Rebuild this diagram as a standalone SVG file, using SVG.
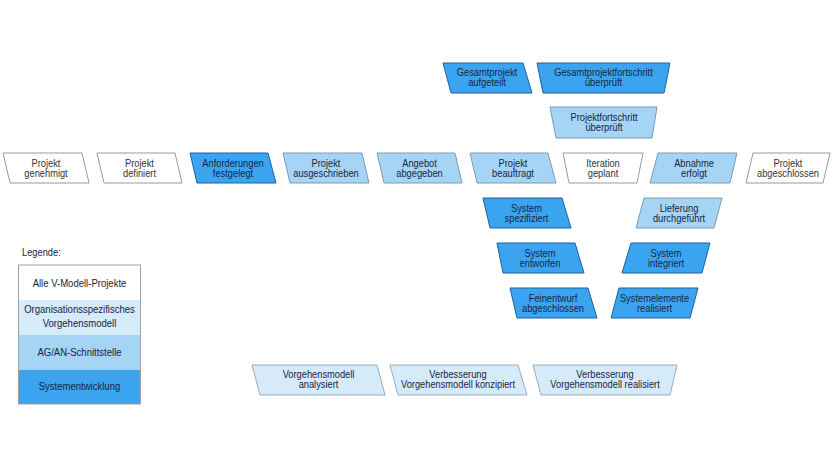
<svg xmlns="http://www.w3.org/2000/svg" width="840" height="473" viewBox="0 0 840 473">
<style>
.w{fill:#ffffff;stroke:#9a9a9a;stroke-width:1}
.l{fill:#d6ebfa;stroke:#9aabba;stroke-width:1}
.m{fill:#a6d4f5;stroke:#7c9cb6;stroke-width:1}
.d{fill:#3ba4f0;stroke:#22609a;stroke-width:1}
.t{font-family:"Liberation Sans",Arial,sans-serif;font-size:11.2px;text-anchor:middle;fill:#17243f}
.tg{font-family:"Liberation Sans",Arial,sans-serif;font-size:11.2px;text-anchor:middle;fill:#333333}
.lg{font-family:"Liberation Sans",Arial,sans-serif;font-size:11.5px;text-anchor:middle;fill:#17243f}
</style>
<rect width="840" height="473" fill="#ffffff"/>
<g id="connectors"></g>

<g id="n-projekt-genehmigt"><polygon class="w" points="3,153 82,153 89,183 10,183"/><text class="tg" transform="translate(46,0) scale(0.83,1)"><tspan x="0" y="167">Projekt</tspan><tspan x="0" y="177.5">genehmigt</tspan></text></g>
<g id="n-projekt-definiert"><polygon class="w" points="97,153 175,153 182,183 104,183"/><text class="tg" transform="translate(139.5,0) scale(0.83,1)"><tspan x="0" y="167">Projekt</tspan><tspan x="0" y="177.5">definiert</tspan></text></g>
<g id="n-anforderungen"><polygon class="d" points="190,153 268,153 276,183 197,183"/><text class="t" transform="translate(233,0) scale(0.83,1)"><tspan x="0" y="167">Anforderungen</tspan><tspan x="0" y="177.5">festgelegt</tspan></text></g>
<g id="n-ausgeschrieben"><polygon class="m" points="283,153 362,153 369,183 290,183"/><text class="t" transform="translate(326,0) scale(0.83,1)"><tspan x="0" y="167">Projekt</tspan><tspan x="0" y="177.5">ausgeschrieben</tspan></text></g>
<g id="n-angebot"><polygon class="m" points="377,153 455,153 462,183 384,183"/><text class="t" transform="translate(419.5,0) scale(0.83,1)"><tspan x="0" y="167">Angebot</tspan><tspan x="0" y="177.5">abgegeben</tspan></text></g>
<g id="n-beauftragt"><polygon class="m" points="470,153 548,153 556,183 477,183"/><text class="t" transform="translate(513,0) scale(0.83,1)"><tspan x="0" y="167">Projekt</tspan><tspan x="0" y="177.5">beauftragt</tspan></text></g>
<g id="n-iteration"><polygon class="w" points="563,153 643,153 637,183 569,183"/><text class="tg" transform="translate(603,0) scale(0.83,1)"><tspan x="0" y="167">Iteration</tspan><tspan x="0" y="177.5">geplant</tspan></text></g>
<g id="n-abnahme"><polygon class="m" points="658,153 737,153 730,183 650,183"/><text class="t" transform="translate(694,0) scale(0.83,1)"><tspan x="0" y="167">Abnahme</tspan><tspan x="0" y="177.5">erfolgt</tspan></text></g>
<g id="n-abgeschlossen"><polygon class="w" points="753,153 830,153 823,183 746,183"/><text class="tg" transform="translate(788,0) scale(0.83,1)"><tspan x="0" y="167">Projekt</tspan><tspan x="0" y="177.5">abgeschlossen</tspan></text></g>

<g id="n-gesamtprojekt"><polygon class="d" points="443,63 523,63 532,93 451,93"/><text class="t" transform="translate(487,0) scale(0.83,1)"><tspan x="0" y="76">Gesamtprojekt</tspan><tspan x="0" y="86.5">aufgeteilt</tspan></text></g>
<g id="n-gesamtfortschritt"><polygon class="d" points="537,63 670,63 664,93 543,93"/><text class="t" transform="translate(603.5,0) scale(0.83,1)"><tspan x="0" y="76">Gesamtprojektfortschritt</tspan><tspan x="0" y="86.5">überprüft</tspan></text></g>
<g id="n-projektfortschritt"><polygon class="m" points="550,107 657,107 652,138 556,138"/><text class="t" transform="translate(604,0) scale(0.83,1)"><tspan x="0" y="121">Projektfortschritt</tspan><tspan x="0" y="131.5">überprüft</tspan></text></g>

<g id="n-sys-spez"><polygon class="d" points="483,198 562,198 571,228 490,228"/><text class="t" transform="translate(526.5,0) scale(0.83,1)"><tspan x="0" y="212">System</tspan><tspan x="0" y="222.5">spezifiziert</tspan></text></g>
<g id="n-sys-entw"><polygon class="d" points="497,243 575,243 584,273 503,273"/><text class="t" transform="translate(540,0) scale(0.83,1)"><tspan x="0" y="257">System</tspan><tspan x="0" y="267.5">entworfen</tspan></text></g>
<g id="n-feinentwurf"><polygon class="d" points="510,288 588,288 597,318 517,318"/><text class="t" transform="translate(553,0) scale(0.83,1)"><tspan x="0" y="302">Feinentwurf</tspan><tspan x="0" y="312.5">abgeschlossen</tspan></text></g>

<g id="n-lieferung"><polygon class="m" points="644,198 722,198 714,228 636,228"/><text class="t" transform="translate(679,0) scale(0.83,1)"><tspan x="0" y="212">Lieferung</tspan><tspan x="0" y="222.5">durchgeführt</tspan></text></g>
<g id="n-sys-integ"><polygon class="d" points="631,243 710,243 702,273 622,273"/><text class="t" transform="translate(666,0) scale(0.83,1)"><tspan x="0" y="257">System</tspan><tspan x="0" y="267.5">integriert</tspan></text></g>
<g id="n-systemelemente"><polygon class="d" points="619,288 698,288 690,318 611,318"/><text class="t" transform="translate(654.5,0) scale(0.83,1)"><tspan x="0" y="302">Systemelemente</tspan><tspan x="0" y="312.5">realisiert</tspan></text></g>

<g id="n-vm-analysiert"><polygon class="l" points="252,365 377,365 385,395 260,395"/><text class="t" transform="translate(318.5,0) scale(0.83,1)"><tspan x="0" y="378">Vorgehensmodell</tspan><tspan x="0" y="388.5">analysiert</tspan></text></g>
<g id="n-vm-konzipiert"><polygon class="l" points="390,365 518,365 527,395 398,395"/><text class="t" transform="translate(458,0) scale(0.83,1)"><tspan x="0" y="378">Verbesserung</tspan><tspan x="0" y="388.5">Vorgehensmodell konzipiert</tspan></text></g>
<g id="n-vm-realisiert"><polygon class="l" points="533,365 677,365 670,395 541,395"/><text class="t" transform="translate(605,0) scale(0.83,1)"><tspan x="0" y="378">Verbesserung</tspan><tspan x="0" y="388.5">Vorgehensmodell realisiert</tspan></text></g>

<g id="legend">
<text class="t" style="text-anchor:start" transform="translate(22,256) scale(0.83,1)">Legende:</text>
<rect x="18.5" y="265" width="122" height="35" fill="#ffffff"/>
<rect x="18.5" y="300" width="122" height="35" fill="#d6ebfa"/>
<rect x="18.5" y="335" width="122" height="35" fill="#a6d4f5"/>
<rect x="18.5" y="370" width="122" height="34" fill="#3ba4f0"/>
<rect x="18.5" y="265" width="122" height="139" fill="none" stroke="#a0a0a0" stroke-width="1"/>
<text class="lg" transform="translate(79.5,0) scale(0.83,1)"><tspan x="0" y="287">Alle V-Modell-Projekte</tspan></text>
<text class="lg" transform="translate(79.5,0) scale(0.83,1)"><tspan x="0" y="313">Organisationsspezifisches</tspan><tspan x="0" y="327.5">Vorgehensmodell</tspan></text>
<text class="lg" transform="translate(79.5,0) scale(0.83,1)"><tspan x="0" y="356">AG/AN-Schnittstelle</tspan></text>
<text class="lg" transform="translate(79.5,0) scale(0.83,1)"><tspan x="0" y="390.5">Systementwicklung</tspan></text>
</g>
</svg>
